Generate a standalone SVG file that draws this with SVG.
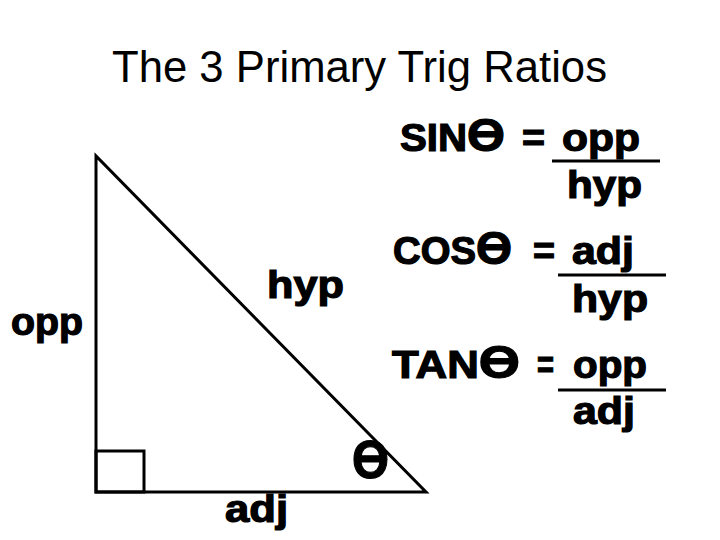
<svg xmlns="http://www.w3.org/2000/svg" width="720" height="540" viewBox="0 0 720 540">
<style>
.t{font-family:"Liberation Sans",Arial,sans-serif;fill:#000}
.b{font-weight:bold;font-size:38px;stroke:#000;stroke-width:1.2}
.th{font-size:46px}
.ln{stroke:#000;stroke-width:3;fill:none}
</style>
<rect width="720" height="540" fill="#fff"/>
<text class="t" x="112" y="82" font-size="44" textLength="495" lengthAdjust="spacingAndGlyphs">The 3 Primary Trig Ratios</text>
<g id="triangle">
<polygon class="ln" points="96,156 96,492 426,492"/>
<rect class="ln" x="96" y="451" width="48" height="41"/>
</g>
<g id="labels">
<text class="t b" x="11" y="335" textLength="72" lengthAdjust="spacingAndGlyphs">opp</text>
<text class="t b" x="267" y="298" textLength="77" lengthAdjust="spacingAndGlyphs">hyp</text>
<text class="t b" x="225" y="522" textLength="63" lengthAdjust="spacingAndGlyphs">adj</text>
<text class="t b" x="352" y="478" style="font-size:54px" textLength="37" lengthAdjust="spacingAndGlyphs">Ө</text>
</g>
<g id="sin">
<text class="t b" x="400" y="151" textLength="105" lengthAdjust="spacingAndGlyphs">SIN<tspan class="th">Ө</tspan></text>
<text class="t b" x="522" y="151" textLength="23" lengthAdjust="spacingAndGlyphs">=</text>
<text class="t b" x="562" y="151" textLength="78" lengthAdjust="spacingAndGlyphs">opp</text>
<line class="ln" x1="552" y1="161" x2="660" y2="161"/>
<text class="t b" x="567" y="198" textLength="75" lengthAdjust="spacingAndGlyphs">hyp</text>
</g>
<g id="cos">
<text class="t b" x="393" y="264" textLength="119" lengthAdjust="spacingAndGlyphs">COS<tspan class="th">Ө</tspan></text>
<text class="t b" x="533" y="264" textLength="22" lengthAdjust="spacingAndGlyphs">=</text>
<text class="t b" x="572" y="264" textLength="62" lengthAdjust="spacingAndGlyphs">adj</text>
<line class="ln" x1="558" y1="275" x2="666" y2="275"/>
<text class="t b" x="572" y="312" textLength="76" lengthAdjust="spacingAndGlyphs">hyp</text>
</g>
<g id="tan">
<text class="t b" x="392" y="378" textLength="128" lengthAdjust="spacingAndGlyphs">TAN<tspan class="th">Ө</tspan></text>
<text class="t b" x="537" y="378" textLength="17" lengthAdjust="spacingAndGlyphs">=</text>
<text class="t b" x="573" y="378" textLength="74" lengthAdjust="spacingAndGlyphs">opp</text>
<line class="ln" x1="558" y1="390" x2="666" y2="390"/>
<text class="t b" x="573" y="424" textLength="62" lengthAdjust="spacingAndGlyphs">adj</text>
</g>
</svg>
